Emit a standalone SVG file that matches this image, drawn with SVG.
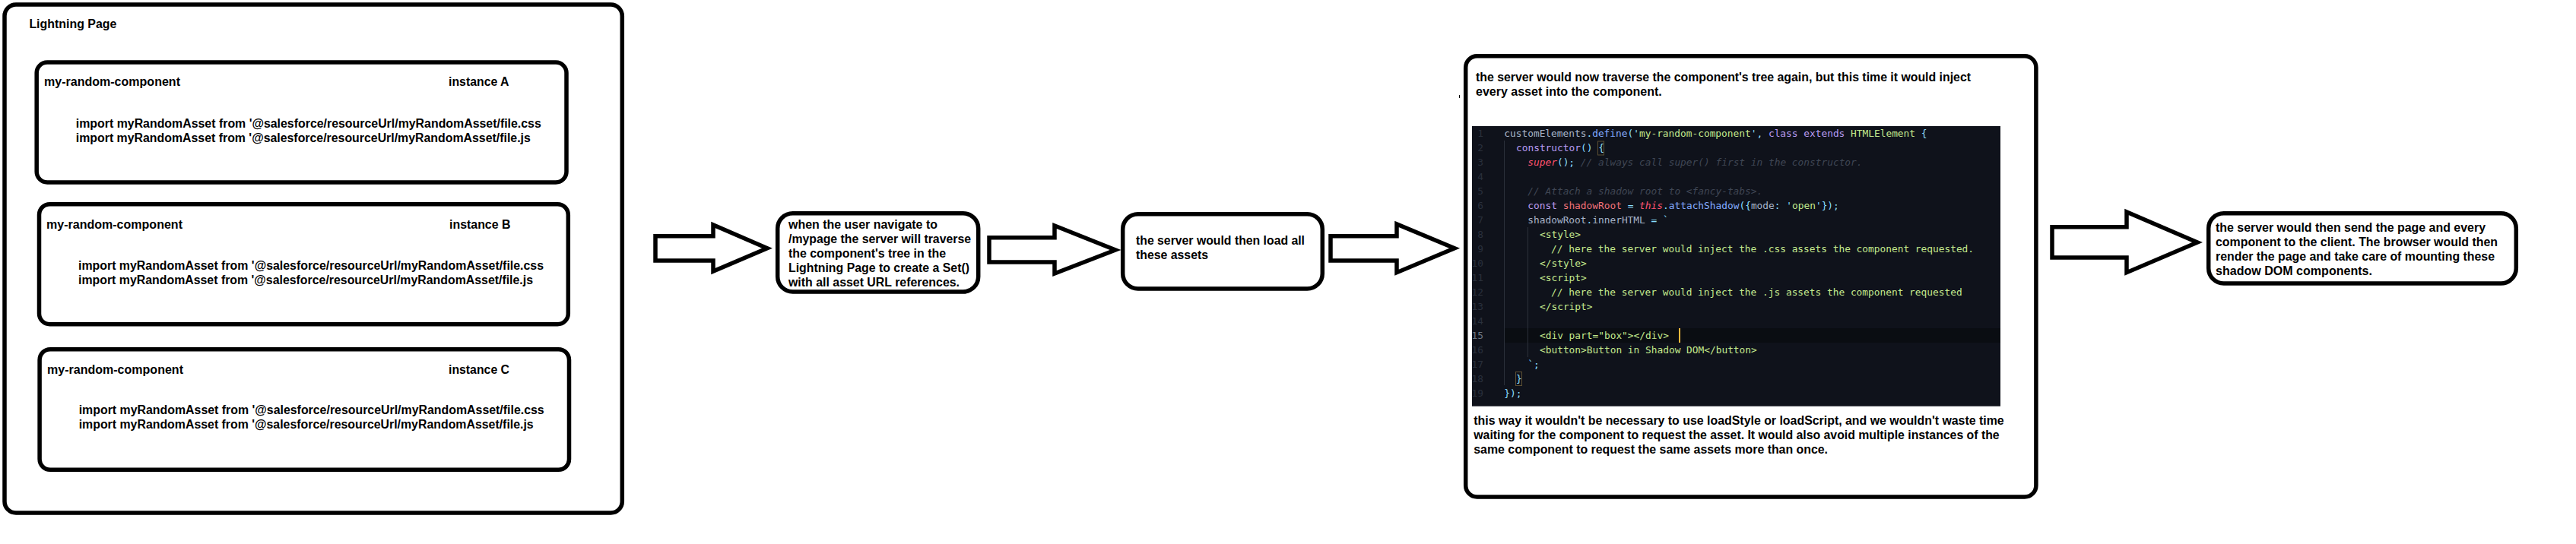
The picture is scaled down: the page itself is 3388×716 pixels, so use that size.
<svg xmlns="http://www.w3.org/2000/svg" width="3388" height="716" viewBox="0 0 3388 716">
<style>
.box{fill:#fff;stroke:#000;stroke-width:5.5}
.arrow{fill:#fff;stroke:#000;stroke-width:5.5;stroke-linejoin:miter;stroke-miterlimit:10}
.t{font-family:"Liberation Sans",Arial,sans-serif;font-weight:700;font-size:16px;fill:#000}
.c{font-family:"DejaVu Sans Mono","Liberation Mono",monospace;font-size:12.84px;fill:#a6b3c8;white-space:pre}
.n{font-family:"DejaVu Sans Mono","Liberation Mono",monospace;font-size:12.84px;fill:#2a303b;text-anchor:end}
.g{fill:#c3e88d}.b{fill:#82aaff}.k{fill:#89ddff}.p{fill:#b79af0}.r{fill:#ff5370;font-style:italic}.s{fill:#f07178}.d{fill:#3f4654;font-style:italic}
.guide{stroke:#2b303a;stroke-width:1}
.match{fill:none;stroke:#5c4f33;stroke-width:1}
</style>
<rect width="3388" height="716" fill="#fff"/>
<g id="connectors">
<polygon class="arrow" points="862,310.7 938,310.7 938,296 1009,326.7 938,357 938,343 862,343"/>
<polygon class="arrow" points="1301,312.7 1387,312.7 1387,297 1467,329 1387,360 1387,345 1301,345"/>
<polygon class="arrow" points="1750,310.7 1837,310.7 1837,295 1913,326.7 1837,358.7 1837,343 1750,343"/>
<polygon class="arrow" points="2699,298.7 2797,298.7 2797,279 2890,319 2797,358.7 2797,339 2699,339"/>
</g>
<g id="lightning-page">
<rect class="box" x="6" y="6" width="812.3" height="669" rx="15"/>
<text class="t" x="38.4" y="37.3" textLength="115" lengthAdjust="spacingAndGlyphs">Lightning Page</text>
</g>
<g id="instance-a">
<rect class="box" x="48.2" y="82" width="696.8" height="158" rx="14"/>
<text class="t" x="58" y="113" textLength="179" lengthAdjust="spacingAndGlyphs">my-random-component</text>
<text class="t" x="590" y="112.7" textLength="79.5" lengthAdjust="spacingAndGlyphs">instance A</text>
<text class="t" x="99.8" y="167.7" textLength="612" lengthAdjust="spacingAndGlyphs">import myRandomAsset from '@salesforce/resourceUrl/myRandomAsset/file.css</text>
<text class="t" x="99.8" y="186.7" textLength="598" lengthAdjust="spacingAndGlyphs">import myRandomAsset from '@salesforce/resourceUrl/myRandomAsset/file.js</text>
</g>
<g id="instance-b">
<rect class="box" x="51.5" y="268.7" width="695.8" height="158" rx="14"/>
<text class="t" x="61" y="300.7" textLength="179" lengthAdjust="spacingAndGlyphs">my-random-component</text>
<text class="t" x="591" y="300.7" textLength="80.5" lengthAdjust="spacingAndGlyphs">instance B</text>
<text class="t" x="103" y="354.7" textLength="612" lengthAdjust="spacingAndGlyphs">import myRandomAsset from '@salesforce/resourceUrl/myRandomAsset/file.css</text>
<text class="t" x="103" y="373.7" textLength="598" lengthAdjust="spacingAndGlyphs">import myRandomAsset from '@salesforce/resourceUrl/myRandomAsset/file.js</text>
</g>
<g id="instance-c">
<rect class="box" x="52.1" y="459.7" width="696.4" height="158.6" rx="14"/>
<text class="t" x="62" y="491.7" textLength="179" lengthAdjust="spacingAndGlyphs">my-random-component</text>
<text class="t" x="590" y="491.7" textLength="80" lengthAdjust="spacingAndGlyphs">instance C</text>
<text class="t" x="103.7" y="545.3" textLength="612" lengthAdjust="spacingAndGlyphs">import myRandomAsset from '@salesforce/resourceUrl/myRandomAsset/file.css</text>
<text class="t" x="103.7" y="564.3" textLength="598" lengthAdjust="spacingAndGlyphs">import myRandomAsset from '@salesforce/resourceUrl/myRandomAsset/file.js</text>
</g>
<g id="step-traverse">
<rect class="box" x="1022.7" y="280.7" width="264" height="103.3" rx="20"/>
<text class="t" x="1037" y="300.7" textLength="196" lengthAdjust="spacingAndGlyphs">when the user navigate to</text>
<text class="t" x="1037" y="319.7" textLength="240" lengthAdjust="spacingAndGlyphs">/mypage the server will traverse</text>
<text class="t" x="1037" y="338.7" textLength="207" lengthAdjust="spacingAndGlyphs">the component's tree in the</text>
<text class="t" x="1037" y="357.7" textLength="238" lengthAdjust="spacingAndGlyphs">Lightning Page to create a Set()</text>
<text class="t" x="1037" y="376.7" textLength="225" lengthAdjust="spacingAndGlyphs">with all asset URL references.</text>
</g>
<g id="step-load">
<rect class="box" x="1476.7" y="281.7" width="262.6" height="98.3" rx="20"/>
<text class="t" x="1494" y="321.7" textLength="222" lengthAdjust="spacingAndGlyphs">the server would then load all</text>
<text class="t" x="1494" y="340.7" textLength="95" lengthAdjust="spacingAndGlyphs">these assets</text>
</g>
<g id="step-inject">
<rect class="box" x="1927.7" y="73.7" width="750.2" height="580.3" rx="15"/>
<text class="t" x="1941" y="106.7" textLength="651" lengthAdjust="spacingAndGlyphs">the server would now traverse the component's tree again, but this time it would inject</text>
<text class="t" x="1941" y="125.7" textLength="244.7" lengthAdjust="spacingAndGlyphs">every asset into the component.</text>
<rect x="1919" y="125" width="1" height="4" fill="#000"/>
<g id="code-block">
<rect x="1936" y="166" width="695" height="368.7" fill="#0f121b"/>
<rect x="1978" y="432" width="653" height="19" fill="#0a0d12"/>
<line class="guide" x1="1978.5" y1="185" x2="1978.5" y2="507"/>
<line class="guide" x1="2009.5" y1="299" x2="2009.5" y2="470"/>
<rect class="match" x="2101.5" y="186" width="8" height="18"/>
<rect class="match" x="1993.5" y="489.5" width="8" height="18"/>
<rect x="2208" y="432" width="2" height="19" fill="#f5b83d"/>
<text class="n" x="1951" y="180">1</text>
<text class="n" x="1951" y="199">2</text>
<text class="n" x="1951" y="218">3</text>
<text class="n" x="1951" y="237">4</text>
<text class="n" x="1951" y="256">5</text>
<text class="n" x="1951" y="275">6</text>
<text class="n" x="1951" y="294">7</text>
<text class="n" x="1951" y="313">8</text>
<text class="n" x="1951" y="332">9</text>
<text class="n" x="1951" y="351">10</text>
<text class="n" x="1951" y="370">11</text>
<text class="n" x="1951" y="389">12</text>
<text class="n" x="1951" y="408">13</text>
<text class="n" x="1951" y="427">14</text>
<text class="n" x="1951" y="446" style="fill:#6e7681">15</text>
<text class="n" x="1951" y="465">16</text>
<text class="n" x="1951" y="484">17</text>
<text class="n" x="1951" y="503">18</text>
<text class="n" x="1951" y="522">19</text>
<text class="c" x="1978.3" y="180">customElements<tspan class="k">.</tspan><tspan class="b">define</tspan><tspan class="k">(</tspan><tspan class="k">'</tspan><tspan class="g">my-random-component</tspan><tspan class="k">'</tspan><tspan class="k">,</tspan> <tspan class="p">class</tspan> <tspan class="p">extends</tspan> <tspan class="g">HTMLElement</tspan> <tspan class="k">{</tspan></text>
<text class="c" x="1994" y="199"><tspan class="p">constructor</tspan><tspan class="k">()</tspan> <tspan class="k">{</tspan></text>
<text class="c" x="2009.3" y="218"><tspan class="r">super</tspan><tspan class="k">();</tspan> <tspan class="d">// always call super() first in the constructor.</tspan></text>
<text class="c" x="2009.3" y="256"><tspan class="d">// Attach a shadow root to &lt;fancy-tabs&gt;.</tspan></text>
<text class="c" x="2009.3" y="275"><tspan class="p">const</tspan> <tspan class="s">shadowRoot</tspan> <tspan class="k">=</tspan> <tspan class="r">this</tspan><tspan class="k">.</tspan><tspan class="b">attachShadow</tspan><tspan class="k">({</tspan>mode<tspan class="k">:</tspan> <tspan class="k">'</tspan><tspan class="g">open</tspan><tspan class="k">'</tspan><tspan class="k">});</tspan></text>
<text class="c" x="2009.3" y="294">shadowRoot<tspan class="k">.</tspan>innerHTML <tspan class="k">=</tspan> <tspan class="k">`</tspan></text>
<text class="c g" x="2025" y="313">&lt;style&gt;</text>
<text class="c g" x="2040" y="332">// here the server would inject the .css assets the component requested.</text>
<text class="c g" x="2025" y="351">&lt;/style&gt;</text>
<text class="c g" x="2025" y="370">&lt;script&gt;</text>
<text class="c g" x="2040" y="389">// here the server would inject the .js assets the component requested</text>
<text class="c g" x="2025" y="408">&lt;/script&gt;</text>
<text class="c g" x="2025" y="446">&lt;div part="box"&gt;&lt;/div&gt;</text>
<text class="c g" x="2025" y="465">&lt;button&gt;Button in Shadow DOM&lt;/button&gt;</text>
<text class="c k" x="2009.3" y="484">`;</text>
<text class="c k" x="1994" y="503">}</text>
<text class="c k" x="1978.3" y="522">});</text>
</g>
<text class="t" x="1938.3" y="559" textLength="697.4" lengthAdjust="spacingAndGlyphs">this way it wouldn't be necessary to use loadStyle or loadScript, and we wouldn't waste time</text>
<text class="t" x="1938.3" y="578" textLength="691.3" lengthAdjust="spacingAndGlyphs">waiting for the component to request the asset. It would also avoid multiple instances of the</text>
<text class="t" x="1938.3" y="597" textLength="465.7" lengthAdjust="spacingAndGlyphs">same component to request the same assets more than once.</text>
</g>
<g id="step-send">
<rect class="box" x="2904.7" y="280.7" width="404.6" height="92.3" rx="20"/>
<text class="t" x="2914" y="305" textLength="355" lengthAdjust="spacingAndGlyphs">the server would then send the page and every</text>
<text class="t" x="2914" y="324" textLength="371" lengthAdjust="spacingAndGlyphs">component to the client. The browser would then</text>
<text class="t" x="2914" y="343" textLength="367" lengthAdjust="spacingAndGlyphs">render the page and take care of mounting these</text>
<text class="t" x="2914" y="362" textLength="206" lengthAdjust="spacingAndGlyphs">shadow DOM components.</text>
</g>
</svg>
